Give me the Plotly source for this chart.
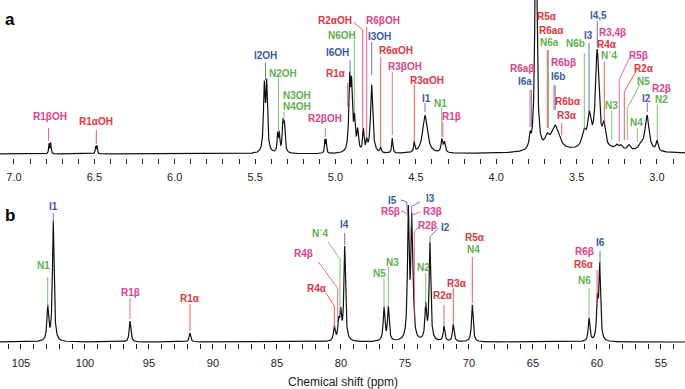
import numpy as np
import plotly.graph_objects as go

# ---------------- DATA ----------------
# (a) 1H spectrum: peak list (ppm, intensity, FWHM in ppm)
h_ppm = [6.782, 6.772, 6.492, 6.484, 5.443, 5.428, 5.360, 5.350, 5.327, 5.318,
         5.066, 5.058, 4.912, 4.900, 4.882, 4.862, 4.827, 4.806, 4.775, 4.719,
         4.647, 4.510, 4.443, 4.338, 4.322, 3.790, 3.753, 3.684, 3.634, 3.454,
         3.421, 3.372, 3.330, 3.250, 3.225, 3.175, 3.100, 3.062, 3.000, 3.350]
h_int = [10, 11, 7, 8, 64, 66, 18, 18, 28, 26,
         13, 13, 68, 60, 30, 20, 22, 10, 68, 5,
         15, 10, 38, 13, 10, 12, 300, 10, 25, 15,
         30, 97, 20, 4, 4, 5, 5, 36, 10, 4]
h_fwhm = [0.006, 0.006, 0.006, 0.006, 0.012, 0.012, 0.008, 0.008, 0.010, 0.010,
          0.006, 0.006, 0.012, 0.012, 0.012, 0.012, 0.010, 0.010, 0.016, 0.008,
          0.008, 0.008, 0.035, 0.012, 0.012, 0.012, 0.013, 0.030, 0.060, 0.030,
          0.025, 0.025, 0.020, 0.020, 0.020, 0.020, 0.030, 0.030, 0.015, 0.500]

# (b) 13C spectrum: peak list
c_ppm = [102.91, 102.48, 96.48, 91.80, 80.52, 80.18, 80.02, 79.71, 76.64, 76.30,
         74.74, 74.48, 74.35, 73.38, 73.05, 71.95, 71.23, 69.74, 60.62, 59.97, 59.79]
c_int = [34, 120, 21, 9, 14, 18, 26, 94, 33, 34,
         127, 113, 24, 34, 97, 15, 17, 37, 23, 37, 74]
c_fwhm = [0.15] * len(c_ppm)

top_ticks = [7.0, 6.5, 6.0, 5.5, 5.0, 4.5, 4.0, 3.5, 3.0]
bot_ticks = [105, 100, 95, 90, 85, 80, 75, 70, 65, 60, 55]

# ---------------- STYLE / LAYOUT ----------------
W, H = 685, 389
COL = {"ra": "#e2353d", "rb": "#e0418d", "i": "#3d59a6", "n": "#5eb04f"}
TOP_X0, TOP_SCALE, TOP_BASE = 7.087, 160.75, 154.0
BOT_X0, BOT_SCALE, BOT_BASE = 106.64, 12.8, 342.0


def tp(px, py):
    return TOP_X0 - px / TOP_SCALE, TOP_BASE - py


def bp(px, py):
    return BOT_X0 - px / BOT_SCALE, BOT_BASE - py


def lorentz_sum(grid, ppm, inten, fwhm):
    y = np.zeros_like(grid)
    for p, a, w in zip(ppm, inten, fwhm):
        y += a / (1.0 + ((grid - p) / (w / 2.0)) ** 2)
    return y


xt = np.linspace(TOP_X0, TOP_X0 - W / TOP_SCALE, 6000)
yt = lorentz_sum(xt, h_ppm, h_int, h_fwhm)
xb = np.linspace(BOT_X0, BOT_X0 - W / BOT_SCALE, 9000)
yb = lorentz_sum(xb, c_ppm, c_int, c_fwhm)

# label layout in pixel space: (text, colour, cx, cy), leaders: (colour, [(px,py),...])
top_labels = [
    ("R1βOH", "rb", 50, 116), ("R1αOH", "ra", 96, 121),
    ("I2OH", "i", 265, 55), ("N2OH", "n", 283, 73),
    ("N3OH", "n", 297, 95), ("N4OH", "n", 297, 106),
    ("R2βOH", "rb", 325, 118), ("R1α", "ra", 336, 73),
    ("I6OH", "i", 337, 52), ("N6OH", "n", 341.7, 35),
    ("R2αOH", "ra", 335, 20.7), ("R6βOH", "rb", 383.3, 20.7),
    ("I3OH", "i", 379.3, 36.7), ("R6αOH", "ra", 396, 50.7),
    ("R3βOH", "rb", 405, 66), ("R3αOH", "ra", 426.7, 80),
    ("I1", "i", 426, 98), ("N1", "n", 440.7, 103.5), ("R1β", "rb", 451.7, 116),
    ("R6aβ", "rb", 521.7, 68.3), ("I6a", "i", 525, 81.7),
    ("R5α", "ra", 547.3, 16.7), ("R6aα", "ra", 551.7, 30.7), ("N6a", "n", 549.3, 42.3),
    ("R6bβ", "rb", 563.3, 62.3), ("I6b", "i", 557.7, 76),
    ("R6bα", "ra", 568.3, 101.7), ("R3α", "ra", 566.7, 115),
    ("N6b", "n", 575, 43.3), ("I3", "i", 588.3, 35.7), ("I4,5", "i", 598.3, 15),
    ("R3,4β", "rb", 612.7, 32.7), ("R4α", "ra", 607, 44), ("N´4", "n", 609, 55),
    ("R5β", "rb", 638.3, 55), ("R2α", "ra", 644, 68.3), ("N5", "n", 643.5, 81.7),
    ("N3", "n", 611.7, 105), ("N4", "n", 636.7, 122), ("I2", "i", 646.7, 98),
    ("R2β", "rb", 661.7, 88), ("N2", "n", 661.7, 99),
]
top_leaders = [
    ("rb", [(48.5, 128), (48.5, 141)]), ("ra", [(96.3, 130), (96.3, 144)]),
    ("i", [(265.5, 63), (265.5, 80)]), ("n", [(278.5, 78), (278.5, 133)]),
    ("n", [(284, 112), (284, 122)]), ("rb", [(325.3, 128), (325.3, 137)]),
    ("ra", [(347.7, 83), (347.7, 107)]), ("i", [(350, 60), (350, 72)]),
    ("n", [(354.3, 40), (354.3, 113)]),
    ("ra", [(353.5, 22), (362.7, 30), (362.7, 128)]),
    ("rb", [(366.7, 27), (366.7, 137)]),
    ("i", [(371.7, 42), (371.7, 75)]), ("ra", [(380.7, 57), (380.7, 147)]),
    ("rb", [(392.3, 72), (392.3, 135)]), ("ra", [(414.3, 85), (414.3, 143)]),
    ("i", [(425, 103), (425, 112)]), ("n", [(441.7, 108), (441.7, 137)]),
    ("rb", [(442.9, 122), (442.9, 137)]),
    ("rb", [(530, 90), (530, 127)]), ("i", [(531.4, 90), (531.4, 127)]),
    ("ra", [(547.3, 50), (547.3, 128)]), ("n", [(548.5, 50), (548.5, 128)]),
    ("rb", [(554, 85), (554, 110)]), ("i", [(555.2, 85), (555.2, 110)]),
    ("ra", [(561.7, 123), (561.7, 135)]),
    ("n", [(584.3, 53), (584.3, 130)]), ("i", [(589, 42.7), (589, 113)]),
    ("i", [(597.3, 20.7), (597.3, 46.7)]), ("ra", [(604.3, 61.7), (604.3, 124)]),
    ("rb", [(629.3, 58.3), (619.3, 79.3), (619.3, 141.7)]),
    ("ra", [(636.7, 70), (624.3, 91.7), (624.3, 140)]),
    ("n", [(640, 84), (627.3, 108.3), (627.3, 140)]),
    ("n", [(611.7, 111), (611.7, 140)]), ("n", [(637.3, 128), (637.3, 142)]),
    ("i", [(647.3, 103), (647.3, 112)]), ("n", [(657.3, 105), (657.3, 140)]),
]
bot_labels = [
    ("N1", "n", 43.3, 265), ("I1", "i", 53, 207), ("R1β", "rb", 130, 292),
    ("R1α", "ra", 190, 298), ("R4α", "ra", 316.7, 288), ("R4β", "rb", 303.3, 254),
    ("N´4", "n", 320, 234), ("I4", "i", 344.7, 225), ("N5", "n", 379.3, 273),
    ("N3", "n", 392.7, 262), ("I5", "i", 392.7, 201), ("R5β", "rb", 390.5, 212),
    ("I3", "i", 430.7, 199), ("R3β", "rb", 432.3, 211.7), ("R2β", "rb", 427.5, 226),
    ("I2", "i", 445, 227.3), ("N2", "n", 423.3, 267), ("R2α", "ra", 443, 295),
    ("R3α", "ra", 456.7, 283), ("R5α", "ra", 475, 238), ("N4", "n", 473.3, 249.3),
    ("N6", "n", 584, 280), ("R6β", "rb", 584, 252), ("R6α", "ra", 584.3, 264),
    ("I6", "i", 600, 243),
]
bot_leaders = [
    ("n", [(47.7, 277), (47.7, 307)]), ("i", [(53.3, 213), (53.3, 221)]),
    ("rb", [(130, 298), (130, 319)]), ("ra", [(190, 304), (190, 331)]),
    ("ra", [(326, 293), (334.3, 306), (334.3, 328)]),
    ("rb", [(318.3, 262), (337.7, 288), (337.7, 323)]),
    ("n", [(328.3, 242), (340, 259), (340, 315)]),
    ("i", [(344.7, 233), (344.7, 245)]),
    ("n", [(384, 278), (384, 308)]), ("n", [(388.3, 267), (388.3, 307)]),
    ("i", [(400.7, 200), (406.7, 201.7), (407.6, 213)]),
    ("rb", [(401, 211), (406.5, 213), (407.3, 216)]),
    ("i", [(420, 201.7), (411.7, 206.7), (411.7, 228)]),
    ("rb", [(420.7, 211.7), (412.3, 215)]),
    ("rb", [(419.3, 226.7), (414.3, 231.7), (414.3, 316.7)]),
    ("i", [(438.3, 228.3), (430, 236.7), (430, 245)]),
    ("n", [(425.7, 273), (425.7, 307)]), ("ra", [(444, 305), (444, 327)]),
    ("ra", [(453.3, 288), (453.3, 325)]), ("ra", [(472.3, 257), (472.3, 303)]),
    ("n", [(589, 288), (589, 317)]), ("ra", [(597.1, 270), (597.1, 303)]),
    ("i", [(600, 251), (600, 266)]),
]

fig = go.Figure()
fig.add_trace(go.Scatter(x=xt, y=yt, mode="lines", line=dict(color="#111111", width=1.2),
                         xaxis="x", yaxis="y", hoverinfo="skip", showlegend=False))
fig.add_trace(go.Scatter(x=xb, y=yb, mode="lines", line=dict(color="#111111", width=1.2),
                         xaxis="x2", yaxis="y2", hoverinfo="skip", showlegend=False))

for col, pts, conv, xa, ya in ([(c, p, tp, "x", "y") for c, p in top_leaders] +
                               [(c, p, bp, "x2", "y2") for c, p in bot_leaders]):
    xy = [conv(px, py) for px, py in pts]
    fig.add_trace(go.Scatter(x=[a for a, _ in xy], y=[b for _, b in xy], mode="lines",
                             line=dict(color=COL[col], width=1), opacity=0.8,
                             xaxis=xa, yaxis=ya, hoverinfo="skip", showlegend=False))

annots = []
for txt, col, cx, cy in top_labels:
    x, y = tp(cx, cy)
    annots.append(dict(x=x, y=y, xref="x", yref="y", text=txt, showarrow=False,
                       xanchor="center", yanchor="middle",
                       font=dict(family="Liberation Sans, Arial", size=10, color=COL[col], weight="bold")))
for txt, col, cx, cy in bot_labels:
    x, y = bp(cx, cy)
    annots.append(dict(x=x, y=y, xref="x2", yref="y2", text=txt, showarrow=False,
                       xanchor="center", yanchor="middle",
                       font=dict(family="Liberation Sans, Arial", size=10, color=COL[col], weight="bold")))
annots += [
    dict(x=10 / W, y=1 - 19 / H, xref="paper", yref="paper", text="<b>a</b>", showarrow=False,
         xanchor="center", yanchor="middle", font=dict(family="Liberation Sans, Arial", size=17, color="#000")),
    dict(x=10 / W, y=1 - 215 / H, xref="paper", yref="paper", text="<b>b</b>", showarrow=False,
         xanchor="center", yanchor="middle", font=dict(family="Liberation Sans, Arial", size=17, color="#000")),
    dict(x=343 / W, y=1 - 382 / H, xref="paper", yref="paper", text="Chemical shift (ppm)",
         showarrow=False, xanchor="center", yanchor="middle",
         font=dict(family="Liberation Sans, Arial", size=12, color="#222")),
]

axis_common = dict(showgrid=False, zeroline=False, showline=False, ticks="outside",
                   ticklen=5, tickwidth=1, tickcolor="#222",
                   tickfont=dict(family="Liberation Sans, Arial", size=11, color="#222"))
fig.update_layout(
    width=W, height=H, margin=dict(l=0, r=0, t=0, b=0),
    paper_bgcolor="white", plot_bgcolor="white", annotations=annots,
    xaxis=dict(domain=[0, 1], range=[TOP_X0, TOP_X0 - W / TOP_SCALE], anchor="y",
               tickvals=top_ticks, ticktext=[f"{v:.1f}" for v in top_ticks],
               ticklabelstandoff=4,
               minor=dict(dtick=0.1, tick0=0, ticks="outside", ticklen=5, tickcolor="#222"),
               **axis_common),
    yaxis=dict(domain=[1 - 158 / H, 1], range=[-4, 154], visible=False, anchor="x"),
    xaxis2=dict(domain=[0, 1], range=[BOT_X0, BOT_X0 - W / BOT_SCALE], anchor="y2",
                tickvals=bot_ticks, ticktext=[str(v) for v in bot_ticks],
                ticklabelstandoff=5,
                minor=dict(dtick=1, tick0=0, ticks="outside", ticklen=5, tickcolor="#222"),
                **axis_common),
    yaxis2=dict(domain=[1 - 343 / H, 1 - 185 / H], range=[-1, 157], visible=False, anchor="x2"),
)

fig.write_html("out.html", config={"displayModeBar": False},
               post_script="document.body.style.margin='0';document.body.style.overflow='hidden';")
